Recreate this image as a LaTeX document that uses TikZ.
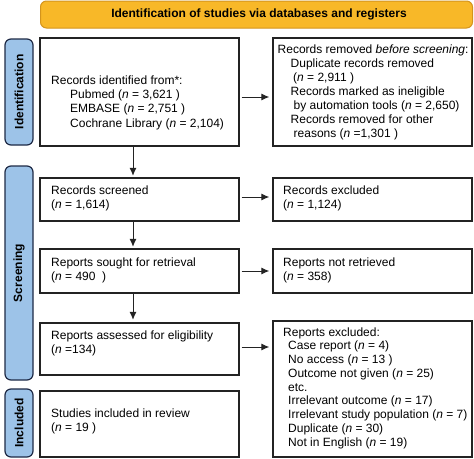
\documentclass[tikz,border=0pt]{standalone}
\usepackage{fontspec}
\setmainfont{Liberation Sans}
\usetikzlibrary{arrows.meta}
\definecolor{gold}{RGB}{248,184,40}
\definecolor{goldedge}{RGB}{212,148,28}
\definecolor{sideblue}{RGB}{157,195,232}
\definecolor{sideedge}{RGB}{30,42,70}
\definecolor{boxedge}{RGB}{35,35,35}
\begin{document}
\begin{tikzpicture}[x=1pt,y=-1pt,
  box/.style={draw=boxedge, line width=1.4pt, fill=white, inner sep=0pt, minimum width=199pt},
  txt/.style={anchor=west, align=left, inner sep=0pt, font=\fontsize{12}{14}\selectfont},
  side/.style={draw=sideedge, line width=1.2pt, fill=sideblue, rounded corners=6pt, inner sep=0pt,
    rotate=90, minimum height=28pt, font=\bfseries\fontsize{12}{14}\selectfont},
  banner/.style={draw=goldedge, line width=1pt, fill=gold, rounded corners=6pt, inner sep=0pt,
    font=\bfseries\fontsize{12}{14}\selectfont},
  arr/.style={-{Latex[length=8pt,width=7pt]}, line width=1pt, draw=boxedge},
]
\useasboundingbox (0,0) rectangle (474,458);
\fill[white] (0,0) rectangle (474,458);

% banner
\node[banner, minimum width=432pt, minimum height=27pt] (ban) at (256.5,14.5)
  {\hspace*{5pt}Identification of studies via databases and registers};

% side labels
\node[side, minimum width=106pt] (sid) at (19,92) {Identification};
\node[side, minimum width=214pt] (ssc) at (19,273) {Screening};
\node[side, minimum width=68pt] (sin) at (19,423) {Included};

% boxes
\node[box, minimum height=108pt] (idb) at (139.5,92) {};
\node[box, minimum height=108pt] (rmb) at (372.5,92) {};
\node[box, minimum height=43pt] (scr) at (139.5,199.5) {};
\node[box, minimum height=43pt] (rex) at (372.5,199.5) {};
\node[box, minimum height=44pt] (sou) at (139.5,271) {};
\node[box, minimum height=44pt] (nrt) at (372.5,271) {};
\node[box, minimum height=52pt] (ass) at (139.5,349) {};
\node[box, minimum height=136pt] (exc) at (372.5,389) {};
\node[box, minimum height=66pt] (inc) at (139.5,424) {};

% texts
\node[txt, font=\fontsize{12}{14.3}\selectfont] (idt) at (51,102.5)
  {Records identified from*:\\
   \hspace*{19pt}Pubmed (\textit{n} = 3,621 )\\
   \hspace*{19pt}EMBASE (\textit{n} = 2,751 )\\
   \hspace*{19pt}Cochrane Library (\textit{n} = 2,104)};
\node[txt, font=\fontsize{12}{13.9}\selectfont] (rmt) at (277.5,92.5)
  {Records removed \textit{before screening}:\\
   \hspace*{13pt}Duplicate records removed\\
   \hspace*{15.5pt}(\textit{n} = 2,911 )\\
   \hspace*{13pt}Records marked as ineligible\\
   \hspace*{16pt}by automation tools (\textit{n} = 2,650)\\
   \hspace*{13pt}Records removed for other\\
   \hspace*{16pt}reasons (\textit{n} =1,301 )};
\node[txt] (scrt) at (51,198) {Records screened\\(\textit{n} = 1,614)};
\node[txt] (rext) at (283,198) {Records excluded\\(\textit{n} = 1,124)};
\node[txt] (sout) at (51,270) {Reports sought for retrieval\\(\textit{n} = 490\ \ )};
\node[txt] (nrtt) at (283,270) {Reports not retrieved\\(\textit{n} = 358)};
\node[txt] (asst) at (51,343) {Reports assessed for eligibility\\(\textit{n} =134)};
\node[txt, font=\fontsize{12}{13.75}\selectfont] (exct) at (283,388)
  {Reports excluded:\\
   \hspace*{5pt}Case report (\textit{n} = 4)\\
   \hspace*{5pt}No access (\textit{n} = 13 )\\
   \hspace*{5pt}Outcome not given (\textit{n} = 25)\\
   \hspace*{5pt}etc.\\
   \hspace*{5pt}Irrelevant outcome (\textit{n} = 17)\\
   \hspace*{5pt}Irrelevant study population (\textit{n} = 7)\\
   \hspace*{5pt}Duplicate (\textit{n} = 30)\\
   \hspace*{5pt}Not in English (\textit{n} = 19)};
\node[txt, font=\fontsize{12}{13.5}\selectfont] (inct) at (51,421.5) {Studies included in review\\(\textit{n} = 19 )};

% arrows
\draw[arr, shorten <=2pt, shorten >=3pt] ([yshift=-5pt]idb.east) -- ([yshift=-5pt]rmb.west);
\draw[arr, shorten <=2pt, shorten >=3pt] ([yshift=2.5pt]scr.east) -- ([yshift=2.5pt]rex.west);
\draw[arr, shorten <=2pt, shorten >=3pt] (sou.east) -- (nrt.west);
\draw[arr, shorten <=2pt, shorten >=3pt] ([yshift=2pt]ass.east) -- ([yshift=2pt]ass.east -| exc.west);
\draw[arr, shorten >=1.5pt] ([xshift=-6.5pt]idb.south) -- ([xshift=-6.5pt]scr.north);
\draw[arr, shorten >=1.5pt] ([xshift=-6.5pt]scr.south) -- ([xshift=-6.5pt]sou.north);
\draw[arr, shorten >=2.5pt] ([xshift=-6.5pt]sou.south) -- ([xshift=-6.5pt]ass.north);
\end{tikzpicture}
\end{document}
